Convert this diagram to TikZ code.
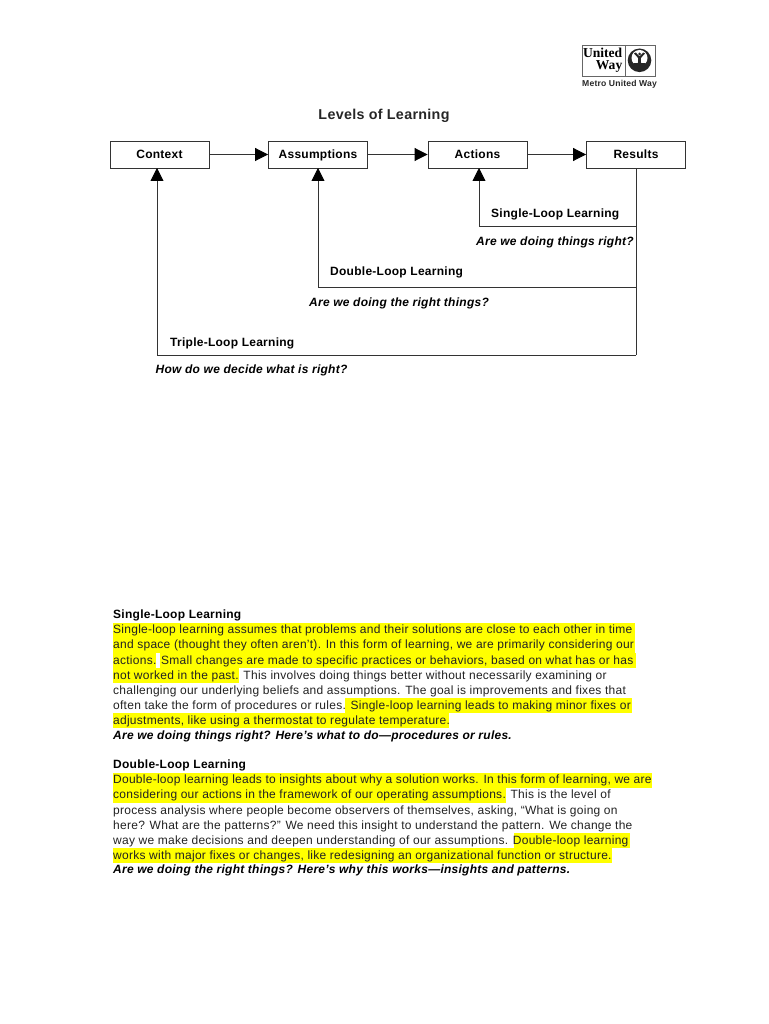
\documentclass[tikz,border=0pt]{standalone}
\usepackage{fontspec}
\setmainfont{Liberation Sans}[LetterSpace=2.2]
\setsansfont{Liberation Sans}[LetterSpace=2.2]
\newfontfamily\logofont{Liberation Serif}
\usetikzlibrary{arrows.meta, positioning, calc}
\definecolor{hlyellow}{HTML}{FFFF00}
\definecolor{bodygrey}{HTML}{222222}
\definecolor{looprule}{HTML}{333333}
\tikzset{
  stepbox/.style={
    draw=looprule, fill=white, line width=0.9pt, minimum width=99pt, minimum height=27pt,
    inner sep=0pt, text height=9pt, text depth=0pt, font=\fontsize{12}{14}\selectfont\bfseries
  },
  arr/.style={-{Triangle[length=13pt,width=13pt,color=black]}, line width=0.9pt, draw=looprule},
  loopline/.style={line width=0.9pt, draw=looprule},
  lab/.style={font=\fontsize{12}{14}\selectfont\bfseries, anchor=west, inner sep=0pt, yshift=-1pt},
  ask/.style={font=\fontsize{12}{14}\selectfont\bfseries\itshape, anchor=west, inner sep=0pt, yshift=-1pt},
  bodyline/.style={font=\fontsize{12}{14}\selectfont, text=bodygrey, anchor=west, inner sep=0pt, yshift=-1pt},
  hl/.style={fill=hlyellow, draw=none}
}
\begin{document}
\begin{tikzpicture}[x=1pt,y=-1pt]
  \useasboundingbox (0,0) rectangle (768,1024);
  % logo
  \draw[draw=black!60, line width=0.8pt] (582,45) rectangle (655,76);
  \draw[draw=black!60, line width=0.8pt] (625,45) -- (625,76);
  \node[font=\logofont\fontsize{13.6}{12.5}\selectfont\bfseries, align=right, inner sep=0pt, anchor=east] (logoname) at (622.5,60.5) {United\\Way};
  \fill[black!85] (639.5,60.3) circle (11.8pt);
  \fill[white] (639.5,58) circle (8pt);
  \fill[black!85] (638.2,57) rectangle (640.8,65);
  \fill[black!85] (634,53.5) -- (639.5,59.5) -- (645,53.5) -- (643.2,52.5) -- (639.5,56.5) -- (635.8,52.5) -- cycle;
  \fill[black!85] (639.5,54) circle (1.5pt);
  \fill[black!85] (630.5,64) .. controls (635,62.5) and (644,62.5) .. (648.5,64) -- (646,69) -- (633,69) -- cycle;
  \node[font=\fontsize{8.6}{9}\selectfont\bfseries, text=black!85, anchor=west, inner sep=0pt] (logometro) at (582,84.5) {Metro United Way};
  \node[font=\fontsize{14.3}{16}\selectfont\bfseries, text=black!85, inner sep=0pt, yshift=-1pt] (title) at (384,114.5) {Levels of Learning};
  % top row
  \node[stepbox] (context) at (159.5,154.5) {Context};
  \node[stepbox] (assumptions) at (318,154.5) {Assumptions};
  \node[stepbox] (actions) at (477.5,154.5) {Actions};
  \node[stepbox] (results) at (636,154.5) {Results};
  \draw[arr] (context) -- (assumptions);
  \draw[arr] (assumptions) -- (actions);
  \draw[arr] (actions) -- (results);
  % loops back from results
  \coordinate (singleturn) at (636,226);
  \coordinate (doubleturn) at (636,287);
  \coordinate (tripleturn) at (636,355);
  \draw[loopline] (results.south) -- (tripleturn);
  \draw[arr] (singleturn) -- (479,226) -- (479,168);
  \draw[arr] (doubleturn) -- (318,287) -- (318,168);
  \draw[arr] (tripleturn) -- (157,355) -- (157,168);
  \node[lab] (singlelab) at (491,213.5) {Single-Loop Learning};
  \node[ask] (singleask) at (476,241) {Are we doing things right?};
  \node[lab] (doublelab) at (330,271.5) {Double-Loop Learning};
  \node[ask] (doubleask) at (309,302) {Are we doing the right things?};
  \node[lab] (triplelab) at (170,342) {Triple-Loop Learning};
  \node[ask] (tripleask) at (155.5,369) {How do we decide what is right?};
  % highlights
  \foreach \xa/\ya/\xb in {113/623/635, 113/638/635, 113/653/156, 160/653/636, 113/668/239, 345/698/632, 113/713/449,
    113/773/652, 113/788/506, 514/833/630, 113/848/612} {
    \fill[hl] (\xa,\ya) rectangle (\xb,\ya+15);
  }
  % text, one node per printed line
  \node[lab] (singlehead) at (113,614) {Single-Loop Learning};
  \foreach \n/\y/\txt in {
    a/629.5/{Single-loop learning assumes that problems and their solutions are close to each other in time},
    b/644.5/{and space (thought they often aren't). In this form of learning, we are primarily considering our},
    c/660/{actions. Small changes are made to specific practices or behaviors, based on what has or has},
    d/675/{not worked in the past. This involves doing things better without necessarily examining or},
    e/690/{challenging our underlying beliefs and assumptions. The goal is improvements and fixes that},
    f/705/{often take the form of procedures or rules. Single-loop learning leads to making minor fixes or},
    g/720/{adjustments, like using a thermostat to regulate temperature.}} {
    \node[bodyline] (single\n) at (113,\y) {\txt};
  }
  \node[ask] (singlefoot) at (113,735) {Are we doing things right? Here's what to do---procedures or rules.};
  \node[lab] (doublehead) at (113,764) {Double-Loop Learning};
  \foreach \n/\y/\txt in {
    a/779.5/{Double-loop learning leads to insights about why a solution works. In this form of learning, we are},
    b/794.5/{considering our actions in the framework of our operating assumptions. This is the level of},
    c/810/{process analysis where people become observers of themselves, asking, “What is going on},
    d/825/{here? What are the patterns?”  We need this insight to understand the pattern. We change the},
    e/840/{way we make decisions and deepen understanding of our assumptions. Double-loop learning},
    f/855/{works with major fixes or changes, like redesigning an organizational function or structure.}} {
    \node[bodyline] (double\n) at (113,\y) {\txt};
  }
  \node[ask] (doublefoot) at (113,869) {Are we doing the right things? Here's why this works---insights and patterns.};
\end{tikzpicture}
\end{document}
